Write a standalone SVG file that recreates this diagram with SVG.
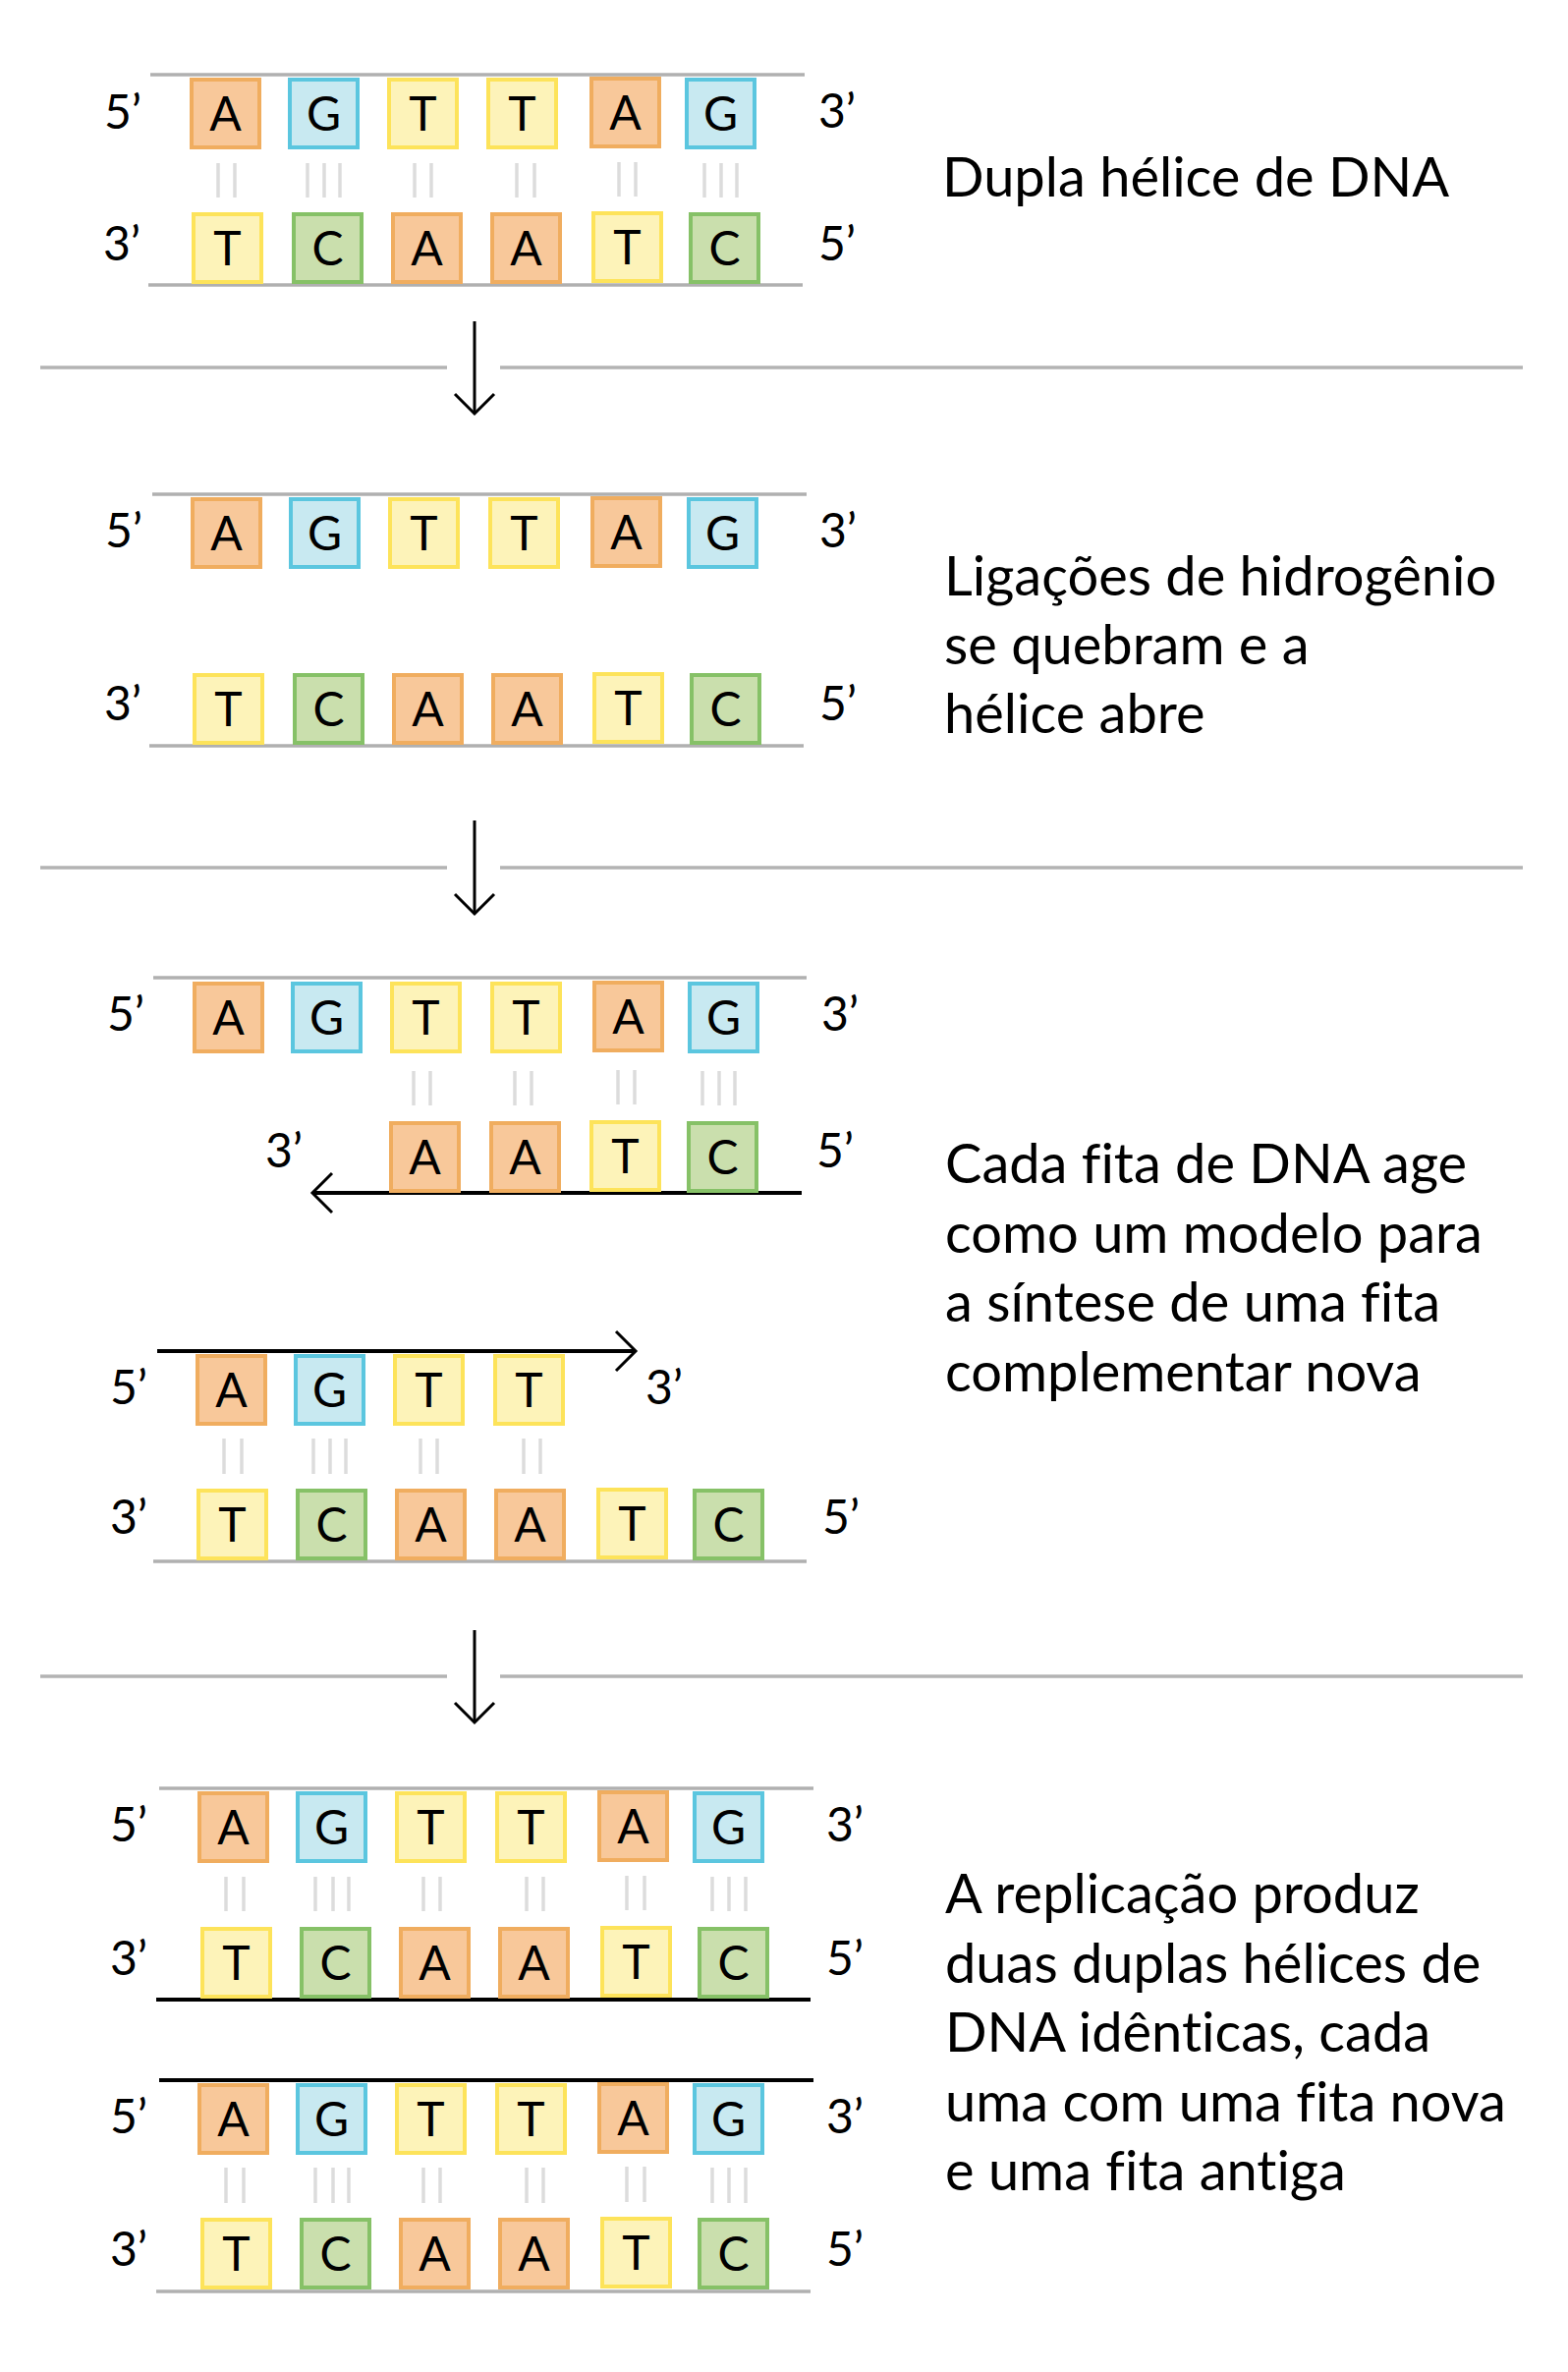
<svg xmlns="http://www.w3.org/2000/svg" width="1596" height="2414" viewBox="0 0 1596 2414">
<style>
.A rect{fill:#f8c89a;stroke:#f0ad5f}
.G rect{fill:#c8e9f1;stroke:#5bc6df}
.T rect{fill:#fdf3b9;stroke:#fde35a}
.C rect{fill:#cadfad;stroke:#86c167}
.b rect{stroke-width:4}
.b text{font-family:Lato,"Liberation Sans",sans-serif;font-size:48px;text-anchor:middle;fill:#000}
.lbl{font-family:Lato,"Liberation Sans",sans-serif;font-size:48px;fill:#000}
.cap{font-family:Lato,"Liberation Sans",sans-serif;font-size:56px;fill:#000;font-variant-ligatures:none;font-feature-settings:"liga" 0}
.bond line{stroke:#dcdcdc;stroke-width:3.5}
.strand{stroke:#b0b0b0;stroke-width:3.5}
.new{stroke:#000;stroke-width:4}
.sep{stroke:#b3b3b3;stroke-width:3.5}
.arr{stroke:#000;stroke-width:3;fill:none}
</style>
<defs>
<marker id="chev" markerUnits="userSpaceOnUse" viewBox="-24 -24 28 48" refX="0" refY="0" markerWidth="28" markerHeight="48" orient="auto" overflow="visible">
<path d="M-20,-20 L0,0 L-20,20" fill="none" stroke="#000" stroke-width="3"/>
</marker>
</defs>
<rect width="1596" height="2414" fill="#fff"/>

<g id="backbones">
<line class="strand" x1="153" y1="76" x2="819" y2="76"/>
<line class="strand" x1="151" y1="290" x2="817" y2="290"/>
<line class="strand" x1="155" y1="503" x2="821" y2="503"/>
<line class="strand" x1="152" y1="759" x2="818" y2="759"/>
<line class="strand" x1="156" y1="995" x2="821" y2="995"/>
<line class="strand" x1="156" y1="1589" x2="821" y2="1589"/>
<line class="strand" x1="162" y1="1820" x2="828" y2="1820"/>
<line class="new" x1="159" y1="2035" x2="825" y2="2035"/>
<line class="new" x1="162" y1="2117" x2="828" y2="2117"/>
<line class="strand" x1="159" y1="2332" x2="825" y2="2332"/>
<line class="sep" x1="41" y1="374" x2="455" y2="374"/>
<line class="sep" x1="509" y1="374" x2="1550" y2="374"/>
<line class="sep" x1="41" y1="883" x2="455" y2="883"/>
<line class="sep" x1="509" y1="883" x2="1550" y2="883"/>
<line class="sep" x1="41" y1="1706" x2="455" y2="1706"/>
<line class="sep" x1="509" y1="1706" x2="1550" y2="1706"/>
</g>

<g id="connectors">
<line class="arr" x1="483" y1="327" x2="483" y2="421" marker-end="url(#chev)"/>
<line class="arr" x1="483" y1="835" x2="483" y2="930" marker-end="url(#chev)"/>
<line class="arr" x1="483" y1="1659" x2="483" y2="1753" marker-end="url(#chev)"/>
<line class="new" x1="816" y1="1214" x2="318" y2="1214" marker-end="url(#chev)"/>
<line class="new" x1="160" y1="1375" x2="647" y2="1375" marker-end="url(#chev)"/>
<g class="bond" id="bonds-s1">
<line x1="222" y1="166" x2="222" y2="201"/><line x1="239" y1="166" x2="239" y2="201"/>
<line x1="313" y1="166" x2="313" y2="201"/><line x1="330" y1="166" x2="330" y2="201"/><line x1="346" y1="166" x2="346" y2="201"/>
<line x1="422" y1="166" x2="422" y2="201"/><line x1="439" y1="166" x2="439" y2="201"/>
<line x1="526" y1="166" x2="526" y2="201"/><line x1="544" y1="166" x2="544" y2="201"/>
<line x1="630" y1="165" x2="630" y2="200"/><line x1="647" y1="165" x2="647" y2="200"/>
<line x1="717" y1="166" x2="717" y2="201"/><line x1="734" y1="166" x2="734" y2="201"/><line x1="750" y1="166" x2="750" y2="201"/>
</g>
<g class="bond" id="bonds-s3a">
<line x1="421" y1="1090" x2="421" y2="1125"/><line x1="438" y1="1090" x2="438" y2="1125"/>
<line x1="524" y1="1090" x2="524" y2="1125"/><line x1="541" y1="1090" x2="541" y2="1125"/>
<line x1="629" y1="1089" x2="629" y2="1124"/><line x1="646" y1="1089" x2="646" y2="1124"/>
<line x1="715" y1="1090" x2="715" y2="1125"/><line x1="732" y1="1090" x2="732" y2="1125"/><line x1="748" y1="1090" x2="748" y2="1125"/>
</g>
<g class="bond" id="bonds-s3b">
<line x1="228" y1="1464" x2="228" y2="1500"/><line x1="246" y1="1464" x2="246" y2="1500"/>
<line x1="319" y1="1464" x2="319" y2="1500"/><line x1="336" y1="1464" x2="336" y2="1500"/><line x1="352" y1="1464" x2="352" y2="1500"/>
<line x1="428" y1="1464" x2="428" y2="1500"/><line x1="445" y1="1464" x2="445" y2="1500"/>
<line x1="533" y1="1464" x2="533" y2="1500"/><line x1="550" y1="1464" x2="550" y2="1500"/>
</g>
<g class="bond" id="bonds-s4a">
<line x1="230" y1="1910" x2="230" y2="1945"/><line x1="248" y1="1910" x2="248" y2="1945"/>
<line x1="321" y1="1910" x2="321" y2="1945"/><line x1="339" y1="1910" x2="339" y2="1945"/><line x1="355" y1="1910" x2="355" y2="1945"/>
<line x1="431" y1="1910" x2="431" y2="1945"/><line x1="448" y1="1910" x2="448" y2="1945"/>
<line x1="536" y1="1910" x2="536" y2="1945"/><line x1="553" y1="1910" x2="553" y2="1945"/>
<line x1="638" y1="1909" x2="638" y2="1944"/><line x1="656" y1="1909" x2="656" y2="1944"/>
<line x1="725" y1="1910" x2="725" y2="1945"/><line x1="742" y1="1910" x2="742" y2="1945"/><line x1="759" y1="1910" x2="759" y2="1945"/>
</g>
<g class="bond" id="bonds-s4b">
<line x1="230" y1="2206" x2="230" y2="2242"/><line x1="248" y1="2206" x2="248" y2="2242"/>
<line x1="321" y1="2206" x2="321" y2="2242"/><line x1="339" y1="2206" x2="339" y2="2242"/><line x1="355" y1="2206" x2="355" y2="2242"/>
<line x1="431" y1="2206" x2="431" y2="2242"/><line x1="448" y1="2206" x2="448" y2="2242"/>
<line x1="536" y1="2206" x2="536" y2="2242"/><line x1="553" y1="2206" x2="553" y2="2242"/>
<line x1="638" y1="2205" x2="638" y2="2241"/><line x1="656" y1="2205" x2="656" y2="2241"/>
<line x1="725" y1="2206" x2="725" y2="2242"/><line x1="742" y1="2206" x2="742" y2="2242"/><line x1="759" y1="2206" x2="759" y2="2242"/>
</g>
</g>

<g id="s1">
<g id="s1t1" class="b A"><rect x="195" y="81" width="69" height="69"/><text x="229.5" y="133">A</text></g>
<g id="s1t2" class="b G"><rect x="295" y="81" width="69" height="69"/><text x="329.5" y="133">G</text></g>
<g id="s1t3" class="b T"><rect x="396" y="81" width="69" height="69"/><text x="430.5" y="133">T</text></g>
<g id="s1t4" class="b T"><rect x="497" y="81" width="69" height="69"/><text x="531.5" y="133">T</text></g>
<g id="s1t5" class="b A"><rect x="602" y="80" width="69" height="69"/><text x="636.5" y="132">A</text></g>
<g id="s1t6" class="b G"><rect x="699" y="81" width="69" height="69"/><text x="733.5" y="133">G</text></g>
<g id="s1b1" class="b T"><rect x="197" y="218" width="69" height="69"/><text x="231.5" y="270">T</text></g>
<g id="s1b2" class="b C"><rect x="299" y="218" width="69" height="69"/><text x="333.5" y="270">C</text></g>
<g id="s1b3" class="b A"><rect x="400" y="218" width="69" height="69"/><text x="434.5" y="270">A</text></g>
<g id="s1b4" class="b A"><rect x="501" y="218" width="69" height="69"/><text x="535.5" y="270">A</text></g>
<g id="s1b5" class="b T"><rect x="604" y="217" width="69" height="69"/><text x="638.5" y="269">T</text></g>
<g id="s1b6" class="b C"><rect x="703" y="218" width="69" height="69"/><text x="737.5" y="270">C</text></g>
<text class="lbl" x="106" y="131">5’</text><text class="lbl" x="833" y="130">3’</text>
<text class="lbl" x="105" y="265">3’</text><text class="lbl" x="833" y="265">5’</text>
</g>

<g id="s2">
<g id="s2t1" class="b A"><rect x="196" y="508" width="69" height="69"/><text x="230.5" y="560">A</text></g>
<g id="s2t2" class="b G"><rect x="296" y="508" width="69" height="69"/><text x="330.5" y="560">G</text></g>
<g id="s2t3" class="b T"><rect x="397" y="508" width="69" height="69"/><text x="431.5" y="560">T</text></g>
<g id="s2t4" class="b T"><rect x="499" y="508" width="69" height="69"/><text x="533.5" y="560">T</text></g>
<g id="s2t5" class="b A"><rect x="603" y="507" width="69" height="69"/><text x="637.5" y="559">A</text></g>
<g id="s2t6" class="b G"><rect x="701" y="508" width="69" height="69"/><text x="735.5" y="560">G</text></g>
<g id="s2b1" class="b T"><rect x="198" y="687" width="69" height="69"/><text x="232.5" y="739">T</text></g>
<g id="s2b2" class="b C"><rect x="300" y="687" width="69" height="69"/><text x="334.5" y="739">C</text></g>
<g id="s2b3" class="b A"><rect x="401" y="687" width="69" height="69"/><text x="435.5" y="739">A</text></g>
<g id="s2b4" class="b A"><rect x="502" y="687" width="69" height="69"/><text x="536.5" y="739">A</text></g>
<g id="s2b5" class="b T"><rect x="605" y="686" width="69" height="69"/><text x="639.5" y="738">T</text></g>
<g id="s2b6" class="b C"><rect x="704" y="687" width="69" height="69"/><text x="738.5" y="739">C</text></g>
<text class="lbl" x="107" y="557">5’</text><text class="lbl" x="834" y="557">3’</text>
<text class="lbl" x="106" y="733">3’</text><text class="lbl" x="834" y="733">5’</text>
</g>

<g id="s3">
<g id="s3t1" class="b A"><rect x="198" y="1001" width="69" height="69"/><text x="232.5" y="1053">A</text></g>
<g id="s3t2" class="b G"><rect x="298" y="1001" width="69" height="69"/><text x="332.5" y="1053">G</text></g>
<g id="s3t3" class="b T"><rect x="399" y="1001" width="69" height="69"/><text x="433.5" y="1053">T</text></g>
<g id="s3t4" class="b T"><rect x="501" y="1001" width="69" height="69"/><text x="535.5" y="1053">T</text></g>
<g id="s3t5" class="b A"><rect x="605" y="1000" width="69" height="69"/><text x="639.5" y="1052">A</text></g>
<g id="s3t6" class="b G"><rect x="702" y="1001" width="69" height="69"/><text x="736.5" y="1053">G</text></g>
<g id="s3m3" class="b A"><rect x="398" y="1143" width="69" height="69"/><text x="432.5" y="1195">A</text></g>
<g id="s3m4" class="b A"><rect x="500" y="1143" width="69" height="69"/><text x="534.5" y="1195">A</text></g>
<g id="s3m5" class="b T"><rect x="602" y="1142" width="69" height="69"/><text x="636.5" y="1194">T</text></g>
<g id="s3m6" class="b C"><rect x="701" y="1143" width="69" height="69"/><text x="735.5" y="1195">C</text></g>
<g id="s3n1" class="b A"><rect x="201" y="1380" width="69" height="69"/><text x="235.5" y="1432">A</text></g>
<g id="s3n2" class="b G"><rect x="301" y="1380" width="69" height="69"/><text x="335.5" y="1432">G</text></g>
<g id="s3n3" class="b T"><rect x="402" y="1380" width="69" height="69"/><text x="436.5" y="1432">T</text></g>
<g id="s3n4" class="b T"><rect x="504" y="1380" width="69" height="69"/><text x="538.5" y="1432">T</text></g>
<g id="s3b1" class="b T"><rect x="202" y="1517" width="69" height="69"/><text x="236.5" y="1569">T</text></g>
<g id="s3b2" class="b C"><rect x="303" y="1517" width="69" height="69"/><text x="337.5" y="1569">C</text></g>
<g id="s3b3" class="b A"><rect x="404" y="1517" width="69" height="69"/><text x="438.5" y="1569">A</text></g>
<g id="s3b4" class="b A"><rect x="505" y="1517" width="69" height="69"/><text x="539.5" y="1569">A</text></g>
<g id="s3b5" class="b T"><rect x="609" y="1516" width="69" height="69"/><text x="643.5" y="1568">T</text></g>
<g id="s3b6" class="b C"><rect x="707" y="1517" width="69" height="69"/><text x="741.5" y="1569">C</text></g>
<text class="lbl" x="109" y="1049">5’</text><text class="lbl" x="836" y="1049">3’</text>
<text class="lbl" x="270" y="1188">3’</text><text class="lbl" x="831" y="1188">5’</text>
<text class="lbl" x="112" y="1429">5’</text><text class="lbl" x="657" y="1429">3’</text>
<text class="lbl" x="112" y="1561">3’</text><text class="lbl" x="837" y="1561">5’</text>
</g>

<g id="s4">
<g id="s4a1" class="b A"><rect x="203" y="1825" width="69" height="69"/><text x="237.5" y="1877">A</text></g>
<g id="s4a2" class="b G"><rect x="303" y="1825" width="69" height="69"/><text x="337.5" y="1877">G</text></g>
<g id="s4a3" class="b T"><rect x="404" y="1825" width="69" height="69"/><text x="438.5" y="1877">T</text></g>
<g id="s4a4" class="b T"><rect x="506" y="1825" width="69" height="69"/><text x="540.5" y="1877">T</text></g>
<g id="s4a5" class="b A"><rect x="610" y="1824" width="69" height="69"/><text x="644.5" y="1876">A</text></g>
<g id="s4a6" class="b G"><rect x="707" y="1825" width="69" height="69"/><text x="741.5" y="1877">G</text></g>
<g id="s4b1" class="b T"><rect x="206" y="1963" width="69" height="69"/><text x="240.5" y="2015">T</text></g>
<g id="s4b2" class="b C"><rect x="307" y="1963" width="69" height="69"/><text x="341.5" y="2015">C</text></g>
<g id="s4b3" class="b A"><rect x="408" y="1963" width="69" height="69"/><text x="442.5" y="2015">A</text></g>
<g id="s4b4" class="b A"><rect x="509" y="1963" width="69" height="69"/><text x="543.5" y="2015">A</text></g>
<g id="s4b5" class="b T"><rect x="613" y="1962" width="69" height="69"/><text x="647.5" y="2014">T</text></g>
<g id="s4b6" class="b C"><rect x="712" y="1963" width="69" height="69"/><text x="746.5" y="2015">C</text></g>
<g id="s4c1" class="b A"><rect x="203" y="2122" width="69" height="69"/><text x="237.5" y="2174">A</text></g>
<g id="s4c2" class="b G"><rect x="303" y="2122" width="69" height="69"/><text x="337.5" y="2174">G</text></g>
<g id="s4c3" class="b T"><rect x="404" y="2122" width="69" height="69"/><text x="438.5" y="2174">T</text></g>
<g id="s4c4" class="b T"><rect x="506" y="2122" width="69" height="69"/><text x="540.5" y="2174">T</text></g>
<g id="s4c5" class="b A"><rect x="610" y="2121" width="69" height="69"/><text x="644.5" y="2173">A</text></g>
<g id="s4c6" class="b G"><rect x="707" y="2122" width="69" height="69"/><text x="741.5" y="2174">G</text></g>
<g id="s4d1" class="b T"><rect x="206" y="2259" width="69" height="69"/><text x="240.5" y="2311">T</text></g>
<g id="s4d2" class="b C"><rect x="307" y="2259" width="69" height="69"/><text x="341.5" y="2311">C</text></g>
<g id="s4d3" class="b A"><rect x="408" y="2259" width="69" height="69"/><text x="442.5" y="2311">A</text></g>
<g id="s4d4" class="b A"><rect x="509" y="2259" width="69" height="69"/><text x="543.5" y="2311">A</text></g>
<g id="s4d5" class="b T"><rect x="613" y="2258" width="69" height="69"/><text x="647.5" y="2310">T</text></g>
<g id="s4d6" class="b C"><rect x="712" y="2259" width="69" height="69"/><text x="746.5" y="2311">C</text></g>
<text class="lbl" x="112" y="1874">5’</text><text class="lbl" x="841" y="1874">3’</text>
<text class="lbl" x="112" y="2010">3’</text><text class="lbl" x="841" y="2010">5’</text>
<text class="lbl" x="112" y="2171">5’</text><text class="lbl" x="841" y="2171">3’</text>
<text class="lbl" x="112" y="2306">3’</text><text class="lbl" x="841" y="2306">5’</text>
</g>

<g id="captions">
<text class="cap" x="959" y="200">Dupla hélice de DNA</text>
<text class="cap" x="961" y="606">Ligações de hidrogênio</text>
<text class="cap" x="961" y="676">se quebram e a</text>
<text class="cap" x="961" y="746">hélice abre</text>
<text class="cap" x="962" y="1204">Cada fita de DNA age</text>
<text class="cap" x="962" y="1275">como um modelo para</text>
<text class="cap" x="962" y="1345">a síntese de uma fita</text>
<text class="cap" x="962" y="1416">complementar nova</text>
<text class="cap" x="962" y="1947">A replicação produz</text>
<text class="cap" x="962" y="2018">duas duplas hélices de</text>
<text class="cap" x="962" y="2088">DNA idênticas, cada</text>
<text class="cap" x="962" y="2159">uma com uma fita nova</text>
<text class="cap" x="962" y="2229">e uma fita antiga</text>
</g>
</svg>
